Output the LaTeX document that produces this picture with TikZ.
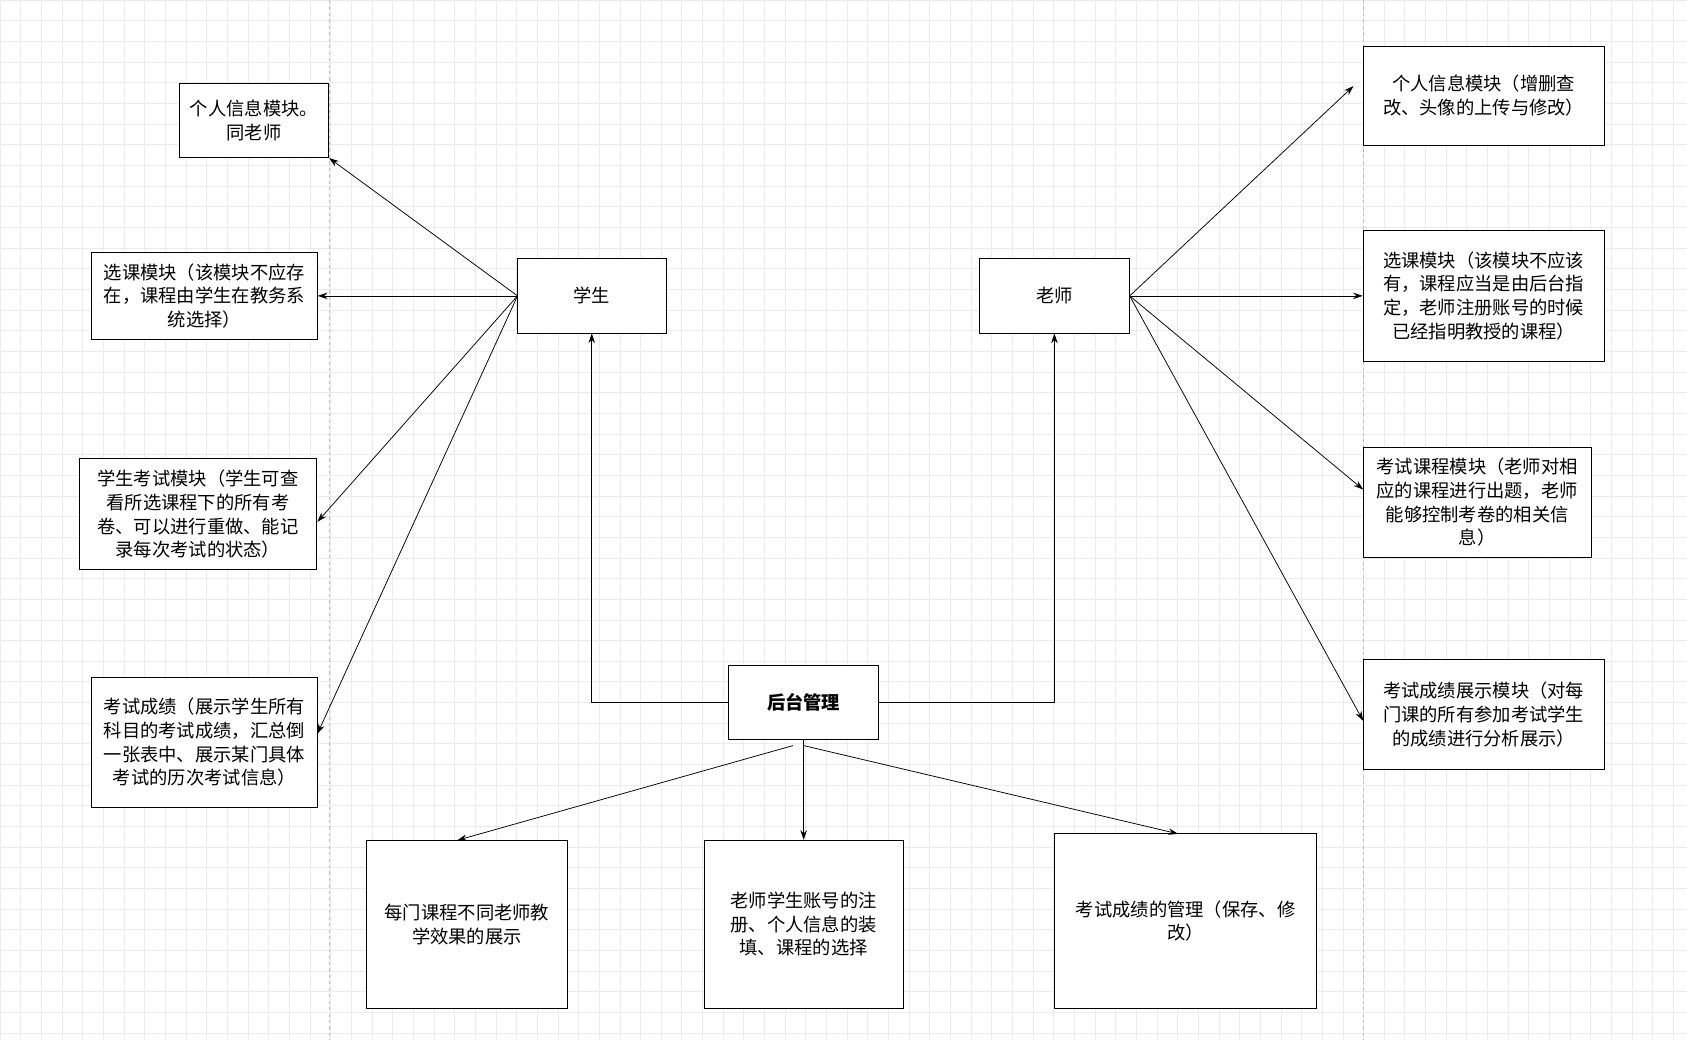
\documentclass[tikz,border=0pt]{standalone}
\usepackage{fontspec}
\setmainfont{Noto Sans CJK SC}
\usetikzlibrary{arrows.meta}
\begin{document}
\begin{tikzpicture}[x=1pt,y=-1pt,
 box/.style={draw,line width=0.8pt,fill=white,align=center,font=\fontsize{17}{22}\selectfont,inner sep=2pt},
 arr/.style={-{Stealth[length=9pt,width=6pt]},line width=0.7pt}]
\useasboundingbox (0,0) rectangle (1568,967);
\fill[white] (0,0) rectangle (1568,967);
\draw[black!8,step=19.2pt] (0,0) grid (1568,967);
\draw[black!25,dashed] (306,0)--(306,967) (1267,0)--(1267,967);
\node[box,minimum width=139pt,minimum height=69pt] (s) at (550,275) {学生};
\node[box,minimum width=140pt,minimum height=69pt] (t) at (980,275) {老师};
\node[box,minimum width=139pt,minimum height=69pt,font=\fontsize{17}{22}\selectfont\bfseries] (m) at (747,653) {后台管理};
\node[box,minimum width=139pt,minimum height=69pt] (a1) at (236,112) {个人信息模块。\\同老师};
\node[box,minimum width=210pt,minimum height=81pt] (a2) at (190,275) {选课模块（该模块不应存\\在，课程由学生在教务系\\统选择）};
\node[box,minimum width=221pt,minimum height=103pt] (a3) at (184,478) {学生考试模块（学生可查\\看所选课程下的所有考\\卷、可以进行重做、能记\\录每次考试的状态）};
\node[box,minimum width=210pt,minimum height=121pt] (a4) at (190,690) {考试成绩（展示学生所有\\科目的考试成绩，汇总倒\\一张表中、展示某门具体\\考试的历次考试信息）};
\node[box,minimum width=224pt,minimum height=92pt] (b1) at (1379,89) {个人信息模块（增删查\\改、头像的上传与修改）};
\node[box,minimum width=224pt,minimum height=121pt] (b2) at (1379,275) {选课模块（该模块不应该\\有，课程应当是由后台指\\定，老师注册账号的时候\\已经指明教授的课程）};
\node[box,minimum width=212pt,minimum height=103pt] (b3) at (1373,467) {考试课程模块（老师对相\\应的课程进行出题，老师\\能够控制考卷的相关信\\息）};
\node[box,minimum width=224pt,minimum height=103pt] (b4) at (1379,664) {考试成绩展示模块（对每\\门课的所有参加考试学生\\的成绩进行分析展示）};
\node[box,minimum width=186pt,minimum height=156pt] (c1) at (434,859) {每门课程不同老师教\\学效果的展示};
\node[box,minimum width=185pt,minimum height=156pt] (c2) at (747,859) {老师学生账号的注\\册、个人信息的装\\填、课程的选择};
\node[box,minimum width=244pt,minimum height=162pt] (c3) at (1102,856) {考试成绩的管理（保存、修\\改）};
\coordinate (so) at (481,275);
\coordinate (to) at (1050,275);
\coordinate (mb) at (737,693);
\coordinate (mb2) at (747,693);
\draw[arr] (so) -- (a1.south east);
\draw[arr] (so) -- (a2.east);
\draw[arr] (so) -- (295,485);
\draw[arr] (so) -- (295,682);
\draw[arr] (to) -- (1258,80);
\draw[arr] (to) -- (b2.west);
\draw[arr] (to) -- (1267,455);
\draw[arr] (to) -- (1267,670);
\draw[arr] (m.west) -| (s.south);
\draw[arr] (m.east) -| (t.south);
\draw[arr] (mb) -- (425,781);
\draw[arr] (m.south) -- (c2.north);
\draw[arr] (mb2) -- (1095,775);
\end{tikzpicture}
\end{document}
